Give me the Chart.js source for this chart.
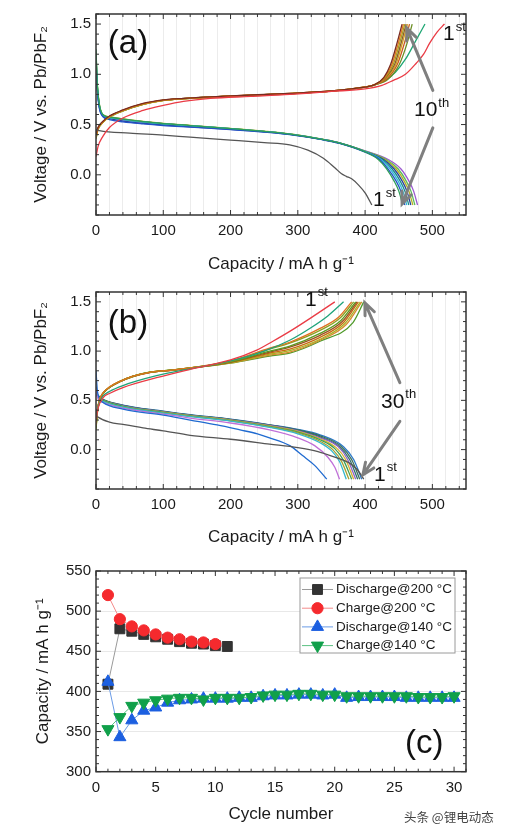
<!DOCTYPE html>
<html>
<head>
<meta charset="utf-8">
<script src="https://cdn.jsdelivr.net/npm/chart.js@4.4.0/dist/chart.umd.min.js"></script>
<style>
    html, body { margin: 0; padding: 0; background: #fff; }
    #wrap { position: relative; width: 508px; height: 834px; overflow: hidden; }
    .panel { position: absolute; left: 0; width: 508px; height: 278px; }
    #mark { position: absolute; left: 404px; top: 807px; font-size: 12.5px; color: #444; font-family: "Noto Sans CJK SC", sans-serif; }
</style>
</head>
<body>
<div id="wrap">
    <div class="panel" style="top:0px"><canvas id="chartA" width="508" height="278"></canvas></div>
    <div class="panel" style="top:278px"><canvas id="chartB" width="508" height="278"></canvas></div>
    <div class="panel" style="top:556px"><canvas id="chartC" width="508" height="278"></canvas></div>
    <div id="mark">头条 @锂电动态</div>
</div>
<script>
// tick labels
var capTicks = [0, 100, 200, 300, 400, 500];
var voltTicks = [0.0, 0.5, 1.0, 1.5];
var cycleTicks = [0, 5, 10, 15, 20, 25, 30];
var capacityTicks = [300, 350, 400, 450, 500, 550];

// (a) charge / discharge profiles, [capacity, voltage]
var aDischarge1 = [[0,0.45],[5,0.44],[50,0.415],[100,0.395],[140,0.374],[200,0.345],[250,0.32],[288,0.298],[315,0.245],[338,0.165],[355,0.07],[365,0.01],[372,-0.015],[380,-0.04],[390,-0.1],[400,-0.18],[410,-0.3]];
var aDischarge2 = [[0,1.25],[2,0.9],[5,0.7],[10,0.6],[20,0.575],[40,0.555],[70,0.53],[100,0.51],[140,0.49],[200,0.46],[250,0.432],[288,0.405],[338,0.35],[362,0.315],[400,0.228],[420,0.15],[432,0.06],[443,-0.06],[450,-0.16],[456,-0.3]];
var aDischarge3 = [[0,1.1],[2,0.84],[5,0.66],[10,0.58],[20,0.55],[40,0.527],[70,0.506],[100,0.49],[140,0.474],[200,0.45],[250,0.425],[288,0.4],[338,0.347],[362,0.312],[400,0.225],[422,0.15],[434,0.06],[446,-0.06],[453,-0.16],[459,-0.3]];
var aDischarge4 = [[0,1.18],[2,0.87],[5,0.68],[10,0.595],[20,0.57],[40,0.55],[70,0.526],[100,0.506],[140,0.488],[200,0.458],[250,0.43],[288,0.404],[338,0.35],[362,0.316],[400,0.23],[424,0.15],[437,0.06],[449,-0.06],[456,-0.16],[462,-0.3]];
var aDischarge5 = [[0,1.2],[2,0.88],[5,0.69],[10,0.598],[20,0.572],[40,0.552],[70,0.528],[100,0.508],[140,0.489],[200,0.459],[250,0.431],[288,0.405],[338,0.351],[362,0.317],[400,0.232],[426,0.15],[440,0.06],[452,-0.06],[459,-0.16],[465,-0.3]];
var aDischarge6 = [[0,1.12],[2,0.85],[5,0.67],[10,0.585],[20,0.558],[40,0.535],[70,0.512],[100,0.496],[140,0.478],[200,0.452],[250,0.427],[288,0.402],[338,0.349],[362,0.315],[400,0.232],[428,0.15],[443,0.06],[455,-0.06],[462,-0.16],[468,-0.3]];
var aDischarge7 = [[0,1.22],[2,0.89],[5,0.7],[10,0.6],[20,0.576],[40,0.556],[70,0.532],[100,0.512],[140,0.492],[200,0.462],[250,0.434],[288,0.407],[338,0.352],[362,0.318],[400,0.234],[430,0.15],[446,0.06],[458,-0.06],[465,-0.16],[471,-0.3]];
var aDischarge8 = [[0,1.2],[2,0.88],[5,0.69],[10,0.597],[20,0.573],[40,0.553],[70,0.529],[100,0.509],[140,0.49],[200,0.46],[250,0.432],[288,0.406],[338,0.352],[362,0.318],[400,0.236],[432,0.15],[449,0.06],[461,-0.06],[468,-0.16],[474,-0.3]];
var aDischarge9 = [[0,1.16],[2,0.86],[5,0.68],[10,0.59],[20,0.565],[40,0.545],[70,0.522],[100,0.503],[140,0.485],[200,0.456],[250,0.43],[288,0.404],[338,0.351],[362,0.318],[400,0.238],[435,0.15],[453,0.06],[465,-0.06],[472,-0.16],[478,-0.3]];

var aCharge1 = [[0,0.18],[3,0.28],[10,0.38],[20,0.47],[40,0.565],[70,0.64],[100,0.69],[130,0.73],[170,0.76],[230,0.78],[288,0.8],[350,0.83],[400,0.855],[425,0.89],[442,0.94],[460,1.0],[476,1.11],[487,1.2],[496,1.31],[507,1.42],[518,1.5]];
var aCharge2 = [[0,0.4],[3,0.47],[10,0.53],[20,0.585],[40,0.645],[70,0.71],[100,0.745],[130,0.76],[200,0.785],[288,0.81],[350,0.835],[390,0.865],[415,0.9],[428,0.97],[438,1.1],[447,1.3],[455,1.5]];
var aCharge3 = [[0,0.38],[3,0.46],[10,0.525],[20,0.58],[40,0.64],[70,0.705],[100,0.742],[130,0.758],[200,0.784],[288,0.809],[350,0.834],[390,0.865],[415,0.9],[429,0.97],[440,1.1],[449,1.3],[457,1.5]];
var aCharge4 = [[0,0.37],[3,0.46],[10,0.522],[20,0.578],[40,0.638],[70,0.703],[100,0.74],[130,0.757],[200,0.783],[288,0.808],[350,0.833],[390,0.864],[415,0.9],[430,0.97],[442,1.1],[451,1.3],[459,1.5]];
var aCharge5 = [[0,0.39],[3,0.47],[10,0.528],[20,0.582],[40,0.642],[70,0.707],[100,0.743],[130,0.759],[200,0.784],[288,0.809],[350,0.834],[390,0.864],[415,0.9],[431,0.97],[444,1.1],[453,1.3],[461,1.5]];
var aCharge6 = [[0,0.36],[3,0.45],[10,0.52],[20,0.576],[40,0.636],[70,0.701],[100,0.739],[130,0.756],[200,0.782],[288,0.808],[350,0.833],[390,0.863],[415,0.898],[432,0.97],[446,1.1],[455,1.3],[463,1.5]];
var aCharge7 = [[0,0.38],[3,0.46],[10,0.524],[20,0.579],[40,0.639],[70,0.704],[100,0.741],[130,0.757],[200,0.783],[288,0.808],[350,0.833],[390,0.863],[415,0.897],[433,0.96],[448,1.1],[458,1.3],[466,1.5]];
var aCharge8 = [[0,0.37],[3,0.455],[10,0.521],[20,0.577],[40,0.637],[70,0.702],[100,0.74],[130,0.756],[200,0.782],[288,0.807],[350,0.832],[390,0.862],[415,0.896],[434,0.95],[451,1.1],[462,1.3],[470,1.5]];
var aCharge9 = [[0,0.36],[3,0.45],[10,0.52],[20,0.575],[40,0.635],[70,0.7],[100,0.74],[130,0.757],[200,0.783],[288,0.808],[350,0.833],[390,0.862],[415,0.895],[430,0.94],[445,1.02],[460,1.15],[475,1.33],[489,1.5]];

// (b) charge / discharge profiles, [capacity, voltage]
var bDischarge1 = [[0,0.35],[3,0.33],[20,0.28],[40,0.255],[70,0.22],[100,0.19],[140,0.145],[200,0.105],[258,0.056],[300,0.02],[330,-0.02],[355,-0.076],[375,-0.13],[388,-0.2],[398,-0.3]];
var bDischarge2 = [[0,0.8],[2,0.6],[5,0.52],[10,0.48],[40,0.41],[100,0.35],[140,0.3],[180,0.25],[214,0.2],[240,0.16],[258,0.12],[288,0.04],[307,-0.06],[325,-0.16],[343,-0.3]];
var bDischarge3 = [[0,0.62],[2,0.54],[5,0.5],[10,0.48],[40,0.42],[100,0.36],[140,0.32],[200,0.27],[258,0.2],[300,0.12],[325,0.04],[345,-0.08],[355,-0.18],[362,-0.3]];
var bDischarge4 = [[0,0.6],[2,0.54],[5,0.51],[10,0.49],[40,0.43],[100,0.37],[140,0.335],[200,0.29],[258,0.225],[300,0.16],[333,0.07],[350,-0.01],[362,-0.12],[372,-0.3]];
var bDischarge5 = [[0,0.6],[2,0.54],[5,0.51],[10,0.49],[40,0.43],[100,0.372],[140,0.338],[200,0.293],[258,0.23],[300,0.17],[333,0.085],[352,0.0],[365,-0.12],[376,-0.3]];
var bDischarge6 = [[0,0.62],[2,0.55],[5,0.52],[10,0.5],[40,0.44],[100,0.378],[140,0.342],[200,0.297],[258,0.235],[300,0.178],[333,0.1],[355,0.01],[368,-0.11],[380,-0.3]];
var bDischarge7 = [[0,0.6],[2,0.55],[5,0.52],[10,0.5],[40,0.44],[100,0.38],[140,0.345],[200,0.3],[258,0.24],[300,0.185],[333,0.11],[357,0.02],[371,-0.1],[383,-0.3]];
var bDischarge8 = [[0,0.61],[2,0.55],[5,0.52],[10,0.5],[40,0.445],[100,0.383],[140,0.347],[200,0.302],[258,0.245],[300,0.19],[333,0.12],[360,0.03],[374,-0.1],[386,-0.3]];
var bDischarge9 = [[0,0.62],[2,0.56],[5,0.53],[10,0.505],[40,0.447],[100,0.386],[140,0.35],[200,0.305],[258,0.248],[300,0.195],[333,0.13],[362,0.03],[377,-0.1],[389,-0.3]];
var bDischarge10 = [[0,0.63],[2,0.56],[5,0.53],[10,0.51],[40,0.45],[100,0.388],[140,0.352],[200,0.307],[258,0.25],[300,0.2],[333,0.14],[365,0.03],[380,-0.1],[392,-0.3]];
var bDischarge11 = [[0,0.64],[2,0.57],[5,0.54],[10,0.51],[40,0.452],[100,0.39],[140,0.354],[200,0.309],[258,0.252],[300,0.205],[333,0.15],[368,0.03],[383,-0.1],[395,-0.3]];

var bCharge1 = [[0,0.3],[3,0.42],[11,0.53],[20,0.57],[40,0.63],[90,0.73],[140,0.815],[200,0.91],[239,1.01],[263,1.1],[288,1.2],[320,1.34],[355,1.5]];
var bCharge2 = [[0,0.3],[3,0.43],[10,0.54],[20,0.59],[40,0.65],[90,0.75],[140,0.82],[200,0.9],[250,1.0],[288,1.11],[320,1.24],[345,1.36],[368,1.5]];
var bCharge3 = [[0,0.25],[2,0.4],[5,0.5],[10,0.57],[20,0.635],[35,0.69],[55,0.745],[80,0.785],[110,0.805],[140,0.83],[200,0.9],[258,1.03],[288,1.09],[333,1.23],[360,1.34],[380,1.5]];
var bCharge4 = [[0,0.24],[2,0.39],[5,0.5],[10,0.57],[20,0.632],[35,0.688],[55,0.742],[80,0.783],[110,0.804],[140,0.829],[200,0.895],[258,1.02],[288,1.08],[333,1.21],[362,1.33],[383,1.5]];
var bCharge5 = [[0,0.22],[2,0.38],[5,0.49],[10,0.565],[20,0.63],[35,0.69],[55,0.745],[80,0.786],[110,0.806],[140,0.83],[200,0.89],[258,1.0],[288,1.05],[333,1.18],[364,1.31],[386,1.5]];
var bCharge6 = [[0,0.26],[2,0.4],[5,0.5],[10,0.568],[20,0.63],[35,0.686],[55,0.74],[80,0.782],[110,0.803],[140,0.828],[200,0.888],[258,0.99],[288,1.04],[333,1.16],[366,1.3],[388,1.5]];
var bCharge7 = [[0,0.23],[2,0.39],[5,0.49],[10,0.566],[20,0.632],[35,0.69],[55,0.744],[80,0.785],[110,0.805],[140,0.829],[200,0.885],[258,0.98],[288,1.02],[333,1.14],[368,1.29],[390,1.5]];
var bCharge8 = [[0,0.2],[2,0.37],[5,0.49],[10,0.567],[20,0.634],[35,0.692],[55,0.746],[80,0.787],[110,0.806],[140,0.829],[200,0.882],[258,0.97],[288,1.005],[333,1.12],[370,1.28],[393,1.5]];
var bCharge9 = [[0,0.25],[2,0.4],[5,0.5],[10,0.569],[20,0.633],[35,0.689],[55,0.743],[80,0.784],[110,0.804],[140,0.828],[200,0.88],[258,0.96],[288,0.99],[333,1.11],[372,1.27],[395,1.5]];
var bCharge10 = [[0,0.21],[2,0.38],[5,0.49],[10,0.566],[20,0.632],[35,0.69],[55,0.745],[80,0.786],[110,0.805],[140,0.828],[200,0.878],[258,0.95],[288,0.98],[333,1.1],[382,1.29],[398,1.5]];

// (c) cycling
var cycles = [1, 2, 3, 4, 5, 6, 7, 8, 9, 10, 11, 12, 13, 14, 15, 16, 17, 18, 19, 20, 21, 22, 23, 24, 25, 26, 27, 28, 29, 30];
var discharge200 = [409, 478, 475, 471, 468, 465, 462, 460, 459, 457, 456];
var charge200 = [520, 490, 481, 476, 471, 467, 465, 462, 461, 459];
var discharge140 = [412, 343, 364, 376, 380, 386, 389, 390, 391, 391, 391, 392, 392, 394, 395, 395, 396, 396, 395, 396, 392, 393, 393, 393, 393, 392, 392, 392, 392, 392];
var charge140 = [353, 368, 382, 386, 389, 391, 392, 392, 390, 392, 392, 392, 393, 395, 396, 396, 397, 397, 396, 396, 394, 394, 394, 394, 394, 394, 393, 393, 393, 394];

var fontFamily = '"Liberation Sans", Arial, sans-serif';
Chart.defaults.font.family = fontFamily;
Chart.defaults.color = '#1a1a1a';
Chart.defaults.animation = false;

// box frame with inward ticks on all four sides
var framePlugin = {
    id: 'frame',
    afterDatasetsDraw: function(chart, args, opts) {
        var ctx = chart.ctx, a = chart.chartArea;
        var xs = chart.scales.x, ys = chart.scales.y;
        ctx.save();
        ctx.strokeStyle = '#333';
        ctx.lineWidth = 1;
        ctx.beginPath();
        var n = Math.floor((xs.max - xs.min) / opts.xMinor + 1e-9);
        for (var i = 0; i <= n; i++) {
            var v = xs.min + i * opts.xMinor;
            var big = Math.abs(v / opts.xMajor - Math.round(v / opts.xMajor)) < 1e-6;
            var len = big ? 5 : 3;
            var p = xs.getPixelForValue(v);
            ctx.moveTo(p, a.bottom); ctx.lineTo(p, a.bottom - len);
            ctx.moveTo(p, a.top); ctx.lineTo(p, a.top + len);
        }
        n = Math.floor((ys.max - ys.min) / opts.yMinor + 1e-9);
        for (var j = 0; j <= n; j++) {
            var w = ys.min + j * opts.yMinor;
            var big2 = Math.abs(w / opts.yMajor - Math.round(w / opts.yMajor)) < 1e-6;
            var len2 = big2 ? 5 : 3;
            var q = ys.getPixelForValue(w);
            ctx.moveTo(a.left, q); ctx.lineTo(a.left + len2, q);
            ctx.moveTo(a.right, q); ctx.lineTo(a.right - len2, q);
        }
        ctx.stroke();
        ctx.lineWidth = 1.5;
        ctx.strokeRect(a.left, a.top, a.right - a.left, a.bottom - a.top);
        ctx.restore();
    }
};

// panel letter, cycle labels and arrows
var notesPlugin = {
    id: 'notes',
    afterDraw: function(chart, args, opts) {
        var ctx = chart.ctx;
        var xs = chart.scales.x, ys = chart.scales.y;
        ctx.save();
        ctx.fillStyle = '#111';
        ctx.textBaseline = 'middle';
        if (opts.letter) {
            ctx.font = '33px ' + fontFamily;
            ctx.textAlign = 'center';
            ctx.fillText(opts.letter.text, xs.getPixelForValue(opts.letter.x), ys.getPixelForValue(opts.letter.y));
        }
        (opts.arrows || []).forEach(function(ar) {
            var x1 = xs.getPixelForValue(ar.from[0]), y1 = ys.getPixelForValue(ar.from[1]);
            var x2 = xs.getPixelForValue(ar.to[0]), y2 = ys.getPixelForValue(ar.to[1]);
            var ang = Math.atan2(y2 - y1, x2 - x1);
            ctx.strokeStyle = '#7f7f7f';
            ctx.lineWidth = 3;
            ctx.lineCap = 'round';
            ctx.beginPath();
            ctx.moveTo(x1, y1); ctx.lineTo(x2, y2);
            ctx.moveTo(x2 - 13 * Math.cos(ang - 0.4), y2 - 13 * Math.sin(ang - 0.4));
            ctx.lineTo(x2, y2);
            ctx.lineTo(x2 - 13 * Math.cos(ang + 0.4), y2 - 13 * Math.sin(ang + 0.4));
            ctx.stroke();
        });
        (opts.texts || []).forEach(function(t) {
            var x = xs.getPixelForValue(t.x), y = ys.getPixelForValue(t.y);
            ctx.font = '21px ' + fontFamily;
            ctx.textAlign = 'center';
            var wMain = ctx.measureText(t.main).width;
            ctx.fillText(t.main, x, y);
            ctx.font = '13px ' + fontFamily;
            ctx.textAlign = 'left';
            ctx.fillText(t.sup, x + wMain / 2 + 1, y - 7);
        });
        ctx.restore();
    }
};

// framed legend inside the plot area
var boxLegendPlugin = {
    id: 'boxLegend',
    afterDraw: function(chart, args, opts) {
        if (!opts.show) return;
        var ctx = chart.ctx, a = chart.chartArea;
        var w = 155, h = 75;
        var left = a.right - 11 - w, top = a.top + 7;
        ctx.save();
        ctx.fillStyle = '#fff';
        ctx.fillRect(left, top, w, h);
        ctx.strokeStyle = '#9a9a9a';
        ctx.lineWidth = 1;
        ctx.strokeRect(left, top, w, h);
        chart.data.datasets.slice().sort(function(p, q) { return q.order - p.order; }).forEach(function(ds, i) {
            var y = top + 11.5 + i * 18.7;
            ctx.strokeStyle = ds.borderColor;
            ctx.lineWidth = 1;
            ctx.beginPath();
            ctx.moveTo(left + 2, y); ctx.lineTo(left + 33, y);
            ctx.stroke();
            ctx.fillStyle = ds.pointBackgroundColor;
            ctx.strokeStyle = ds.pointBorderColor;
            Chart.helpers.drawPoint(ctx, {
                pointStyle: ds.pointStyle, rotation: ds.pointRotation || 0,
                radius: ds.pointRadius, borderWidth: 1
            }, left + 17.5, y);
            ctx.fillStyle = '#1a1a1a';
            ctx.font = '13.5px ' + fontFamily;
            ctx.textAlign = 'left';
            ctx.textBaseline = 'middle';
            ctx.fillText(ds.label, left + 36, y);
        });
        ctx.restore();
    }
};

function curveSets(curves, colors) {
    return curves.map(function(pts, i) {
        return {
            data: pts,
            borderColor: colors[i],
            borderWidth: 1.3,
            pointRadius: 0,
            showLine: true,
            fill: false,
            cubicInterpolationMode: 'monotone'
        };
    });
}

function everyTwenty(scale) {
    var list = [];
    for (var v = 0; v <= 540; v += 20) list.push({ value: v });
    scale.ticks = list;
}

function voltageChart(id, datasets, padTop, axisHeight, titlePad, notes) {
    return new Chart(document.getElementById(id), {
        type: 'scatter',
        data: { datasets: datasets },
        options: {
            responsive: false,
            layout: { padding: { top: padTop, right: 42, left: 0, bottom: 0 }, autoPadding: false },
            plugins: {
                legend: { display: false },
                tooltip: { enabled: false },
                frame: { xMinor: 20, xMajor: 100, yMinor: 0.1, yMajor: 0.5 },
                notes: notes
            },
            scales: {
                x: {
                    type: 'linear', min: 0, max: 550,
                    afterBuildTicks: everyTwenty,
                    afterFit: function(s) { s.height = axisHeight; },
                    grid: { color: '#ececec', lineWidth: 1, drawTicks: false },
                    border: { display: false },
                    ticks: {
                        autoSkip: false, maxRotation: 0, padding: 7, font: { size: 15 },
                        callback: function(v) { return capTicks.indexOf(v) >= 0 ? String(v) : ''; }
                    },
                    title: { display: true, text: 'Capacity / mA h g⁻¹', font: { size: 17 }, padding: { top: 0, bottom: titlePad } }
                },
                y: {
                    type: 'linear', min: -0.4, max: 1.6,
                    afterBuildTicks: function(s) { s.ticks = voltTicks.map(function(v) { return { value: v }; }); },
                    afterFit: function(s) { s.width = 96; },
                    grid: { display: false, drawTicks: false },
                    border: { display: false },
                    ticks: { padding: 5, font: { size: 15 }, callback: function(v) { return v.toFixed(1); } },
                    title: { display: true, text: 'Voltage / V vs. Pb/PbF₂', font: { size: 17 }, padding: { top: 31, bottom: 0 } }
                }
            }
        },
        plugins: [framePlugin, notesPlugin]
    });
}

// (a)
var aSets = curveSets([aCharge1, aDischarge1], ['#ea3b45', '#555555'])
    .concat(curveSets([aCharge2, aCharge3, aCharge4, aCharge5, aCharge6, aCharge7, aCharge8, aCharge9],
        ['#7a2b20', '#e07b1a', '#a0a020', '#8b5a2b', '#d6a21e', '#c85a1e', '#6b8e23', '#1fa774']))
    .concat(curveSets([aDischarge2, aDischarge3, aDischarge4, aDischarge5, aDischarge6, aDischarge7, aDischarge8, aDischarge9],
        ['#2e9e58', '#2352c8', '#33b8d8', '#1b8a8a', '#2a3f9a', '#b5b020', '#5cb85c', '#9b59d0']));

voltageChart('chartA', aSets, 14, 63, 3, {
    letter: { x: 47.5, y: 1.3, text: '(a)' },
    arrows: [
        { from: [500.7, 0.84], to: [462, 1.46] },
        { from: [500.7, 0.467], to: [455, -0.29] }
    ],
    texts: [
        { x: 524.5, y: 1.4, main: '1', sup: 'st' },
        { x: 490, y: 0.645, main: '10', sup: 'th' },
        { x: 420.5, y: -0.25, main: '1', sup: 'st' }
    ]
});

// (b)
var bSets = curveSets([bCharge1, bCharge2, bDischarge1], ['#ea3b45', '#1fa37a', '#555555'])
    .concat(curveSets([bCharge3, bCharge4, bCharge5, bCharge6, bCharge7, bCharge8, bCharge9, bCharge10],
        ['#e07020', '#8aa020', '#5a9a20', '#9a5020', '#c86a10', '#a8b020', '#d88a30', '#4f9a2a']))
    .concat(curveSets([bDischarge2, bDischarge3, bDischarge4, bDischarge5, bDischarge6, bDischarge7, bDischarge8, bDischarge9, bDischarge10, bDischarge11],
        ['#1f6ad0', '#c070d8', '#34b8cc', '#a8a030', '#3aa055', '#d8b030', '#8e63c8', '#2f6f6f', '#3c6e5a', '#2a78c8']));

voltageChart('chartB', bSets, 10, 67, 8, {
    letter: { x: 47.5, y: 1.28, text: '(b)' },
    arrows: [
        { from: [451.7, 0.68], to: [399.7, 1.49] },
        { from: [451.7, 0.287], to: [396.7, -0.257] }
    ],
    texts: [
        { x: 319.5, y: 1.52, main: '1', sup: 'st' },
        { x: 441, y: 0.485, main: '30', sup: 'th' },
        { x: 422, y: -0.257, main: '1', sup: 'st' }
    ]
});

// (c)
function points(values) {
    return values.map(function(v, i) { return { x: cycles[i], y: v }; });
}

new Chart(document.getElementById('chartC'), {
    type: 'scatter',
    data: {
        datasets: [{
            label: 'Charge@140 °C', data: points(charge140), order: 0,
            showLine: true, borderColor: '#5cc283', borderWidth: 1,
            pointStyle: 'triangle', pointRotation: 180, pointRadius: 7,
            pointBackgroundColor: '#10a04a', pointBorderColor: '#10a04a'
        }, {
            label: 'Discharge@140 °C', data: points(discharge140), order: 1,
            showLine: true, borderColor: '#6a9be6', borderWidth: 1,
            pointStyle: 'triangle', pointRadius: 7,
            pointBackgroundColor: '#1c5fe0', pointBorderColor: '#1c5fe0'
        }, {
            label: 'Charge@200 °C', data: points(charge200), order: 2,
            showLine: true, borderColor: '#f48a8a', borderWidth: 1,
            pointStyle: 'circle', pointRadius: 5.6,
            pointBackgroundColor: '#f52a2e', pointBorderColor: '#f52a2e'
        }, {
            label: 'Discharge@200 °C', data: points(discharge200), order: 3,
            showLine: true, borderColor: '#9a9a9a', borderWidth: 1,
            pointStyle: 'rect', pointRadius: 7,
            pointBackgroundColor: '#333333', pointBorderColor: '#333333'
        }]
    },
    options: {
        responsive: false,
        layout: { padding: { top: 15, right: 42, left: 0, bottom: 0 }, autoPadding: false },
        plugins: {
            legend: { display: false },
            tooltip: { enabled: false },
            frame: { xMinor: 1, xMajor: 5, yMinor: 10, yMajor: 50 },
            notes: { letter: { x: 27.5, y: 334.5, text: '(c)' } },
            boxLegend: { show: true }
        },
        scales: {
            x: {
                type: 'linear', min: 0, max: 31,
                afterBuildTicks: function(s) { s.ticks = cycleTicks.map(function(v) { return { value: v }; }); },
                afterFit: function(s) { s.height = 62.3; },
                grid: { display: false, drawTicks: false },
                border: { display: false },
                ticks: { autoSkip: false, maxRotation: 0, padding: 7, font: { size: 15 } },
                title: { display: true, text: 'Cycle number', font: { size: 17 }, padding: { top: 0, bottom: 9 } }
            },
            y: {
                type: 'linear', min: 300, max: 550,
                afterBuildTicks: function(s) { s.ticks = capacityTicks.map(function(v) { return { value: v }; }); },
                afterFit: function(s) { s.width = 96; },
                grid: {
                    drawTicks: false, lineWidth: 1,
                    color: function(c) { return (c.tick.value === 300 || c.tick.value === 550) ? 'rgba(0,0,0,0)' : '#e8e8e8'; }
                },
                border: { display: false },
                ticks: { padding: 5, font: { size: 15 } },
                title: { display: true, text: 'Capacity / mA h g⁻¹', font: { size: 17 }, padding: { top: 33, bottom: 0 } }
            }
        }
    },
    plugins: [framePlugin, notesPlugin, boxLegendPlugin]
});
</script>
</body>
</html>
